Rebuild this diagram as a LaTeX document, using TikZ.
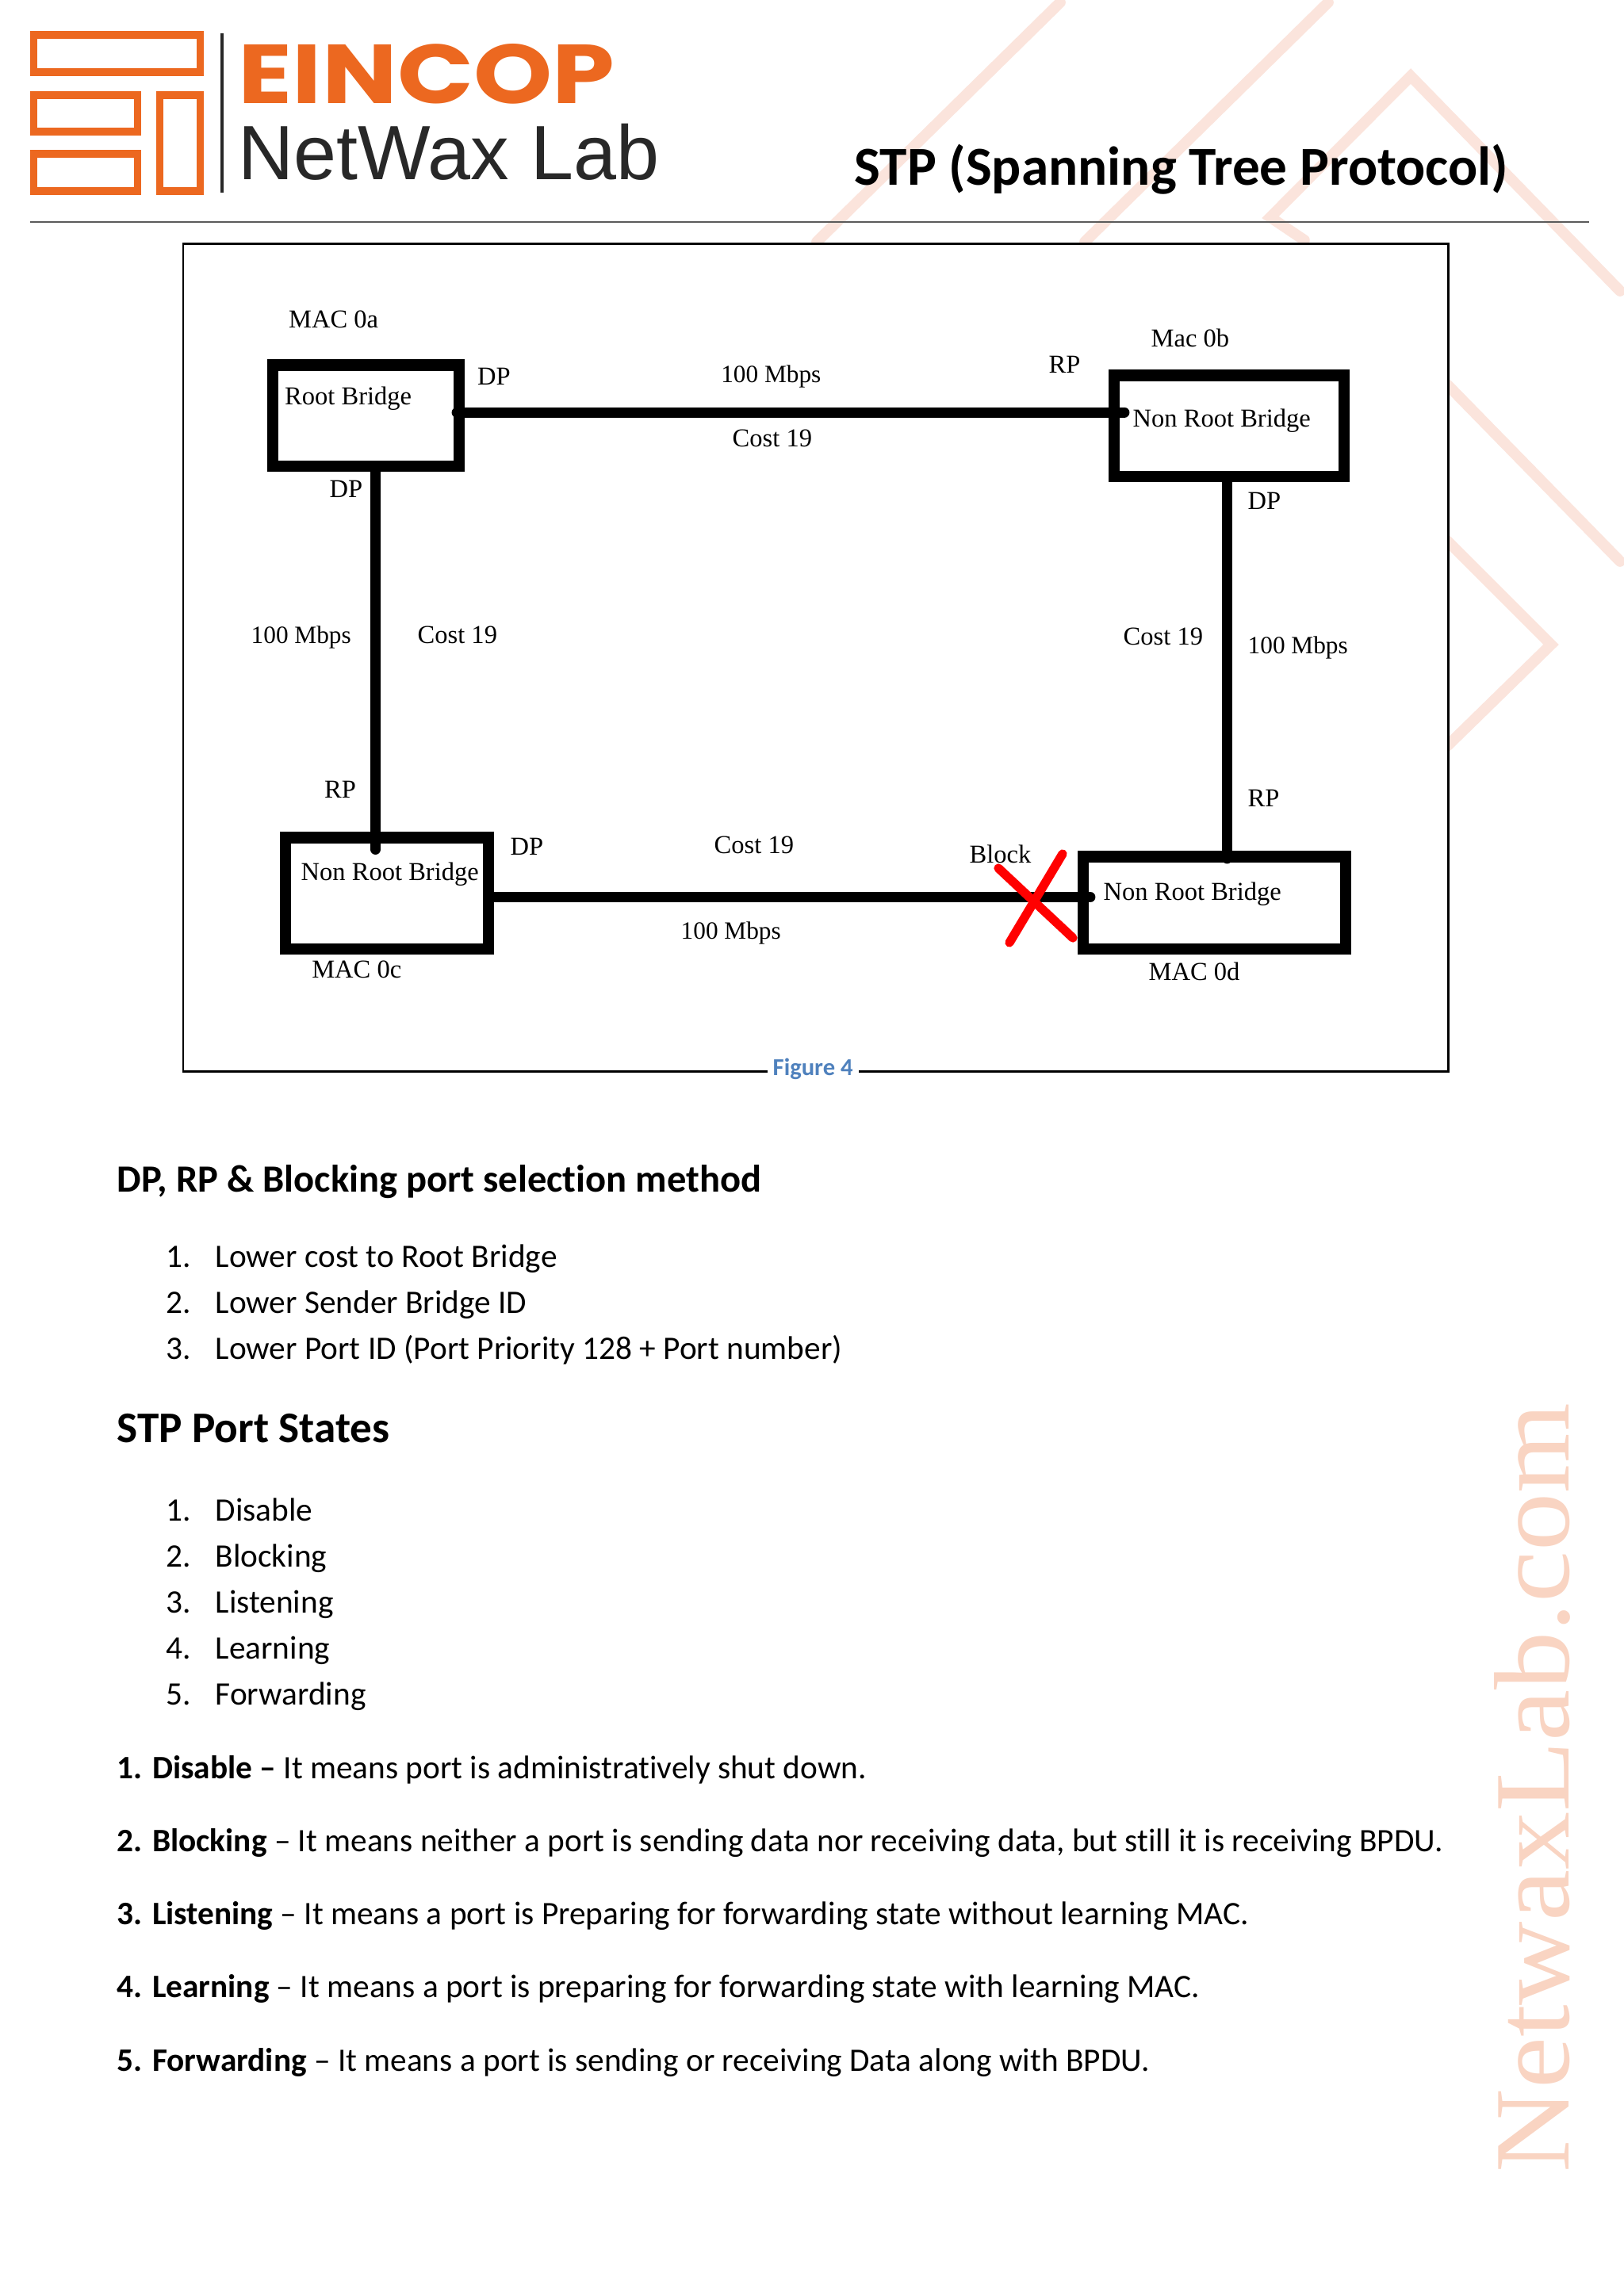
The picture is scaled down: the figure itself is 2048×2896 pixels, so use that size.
\documentclass[tikz,border=0pt]{standalone}
\usepackage{fontspec}
\setmainfont[Ligatures={TeX,NoCommon}]{Carlito}
\newfontfamily\diagfont{Liberation Serif}
\newfontfamily\logofont{Liberation Sans}
\newfontfamily\brandfont{Poppins}
\usetikzlibrary{arrows.meta}

\tikzset{
  bridgebox/.style={draw=black, line width=4pt, inner sep=0pt, outer sep=0pt},
  linkline/.style={black, line width=3.7pt, line cap=round},
  portlabel/.style={anchor=base west, inner sep=0pt, font=\diagfont\fontsize{9.25}{11}\selectfont},
  speedlabel/.style={anchor=base west, inner sep=0pt, font=\diagfont\fontsize{8.9}{11}\selectfont},
  bodyline/.style={anchor=base west, inner sep=0pt, font=\fontsize{11.75}{14}\selectfont},
  logobar/.style={draw=logoorange, line width=2.7pt},
  shadeline/.style={draw=shadecolor, line width=3.9pt, line cap=round, line join=miter}
}

\begin{document}
\begin{tikzpicture}[x=0.01cm, y=-0.01cm, >=stealth]

\definecolor{logoorange}{RGB}{236, 104, 32}
\definecolor{logodark}{RGB}{40, 40, 40}
\definecolor{shadecolor}{RGB}{251, 228, 220}
\definecolor{markcolor}{RGB}{249, 212, 194}
\definecolor{rulecolor}{RGB}{90, 90, 90}
\definecolor{captioncolor}{RGB}{79, 129, 189}

\fill[white] (0, 0) rectangle (2048, 2896);
\useasboundingbox (0, 0) rectangle (2048, 2896);

\draw[shadeline] (1337, 3) -- (1030, 305);
\draw[shadeline] (1675, 3) -- (1368, 305);
\draw[shadeline] (1645, 303) -- (1602, 274) -- (1779, 96) -- (2043, 367);
\draw[shadeline] (1825, 485) -- (2043, 708);
\draw[shadeline] (1825, 682) -- (1956, 813) -- (1825, 941);

\node[anchor=base west, inner sep=0pt, rotate=90, markcolor, font=\diagfont\fontsize{38.5}{46}\selectfont] (markname) at (1978, 2741) {\scalebox{1.08}[1]{NetwaxLab.com}};

\draw[logobar] (42.5, 44) rectangle (252.5, 91);
\draw[logobar] (42.5, 120) rectangle (173.5, 166);
\draw[logobar] (42.5, 194) rectangle (173.5, 241);
\draw[logobar] (201.5, 120) rectangle (252.5, 241);
\draw[logodark, line width=1.1pt] (280, 42) -- (280, 243);
\node[anchor=base west, inner sep=0pt, logoorange, font=\brandfont\bfseries] (brandtop) at (300, 130) {\resizebox{4.74cm}{0.75cm}{EINCOP}};
\node[anchor=base west, inner sep=0pt, logodark, font=\logofont\fontsize{27.6}{30}\selectfont] (brandlow) at (300, 226) {NetWax Lab};

\node[anchor=base west, inner sep=0pt, font=\bfseries\fontsize{19.7}{22}\selectfont] (pagetitle) at (1077, 233) {STP (Spanning Tree Protocol)};
\draw[rulecolor, line width=0.8pt] (38, 280) -- (2004, 280);

\draw[black, fill=white, line width=0.85pt] (231, 307) rectangle (1826, 1351);

\node[bridgebox, minimum width=2.345cm, minimum height=1.27cm] (rootbridge) at (461.75, 524) {};
\node[bridgebox, minimum width=2.895cm, minimum height=1.27cm] (nonrootb) at (1549.75, 537) {};
\node[bridgebox, minimum width=2.555cm, minimum height=1.40cm] (nonrootc) at (487.75, 1126.5) {};
\node[bridgebox, minimum width=3.305cm, minimum height=1.165cm] (nonrootd) at (1531.75, 1138.75) {};

\draw[linkline] ([shift={(-3,-4)}]rootbridge.east) -- ([shift={(13,-17)}]nonrootb.west);
\draw[linkline] ([shift={(11.75,0)}]rootbridge.south) -- ([shift={(-14.25,15)}]nonrootc.north);
\draw[linkline] ([shift={(-2.25,0)}]nonrootb.south) -- ([shift={(15.75,2.5)}]nonrootd.north);
\draw[linkline] ([shift={(0,5)}]nonrootc.east) -- ([shift={(8.5,-7.25)}]nonrootd.west);

\node[portlabel] (namea) at (358.5, 510) {Root Bridge};
\node[portlabel] (nameb) at (1428, 538) {Non Root Bridge};
\node[portlabel] (namec) at (379, 1110) {Non Root Bridge};
\node[portlabel] (named) at (1391, 1135) {Non Root Bridge};

\node[portlabel] (maca) at (363.5, 413) {MAC 0a};
\node[portlabel] (macb) at (1451, 437) {Mac 0b};
\node[portlabel] (macc) at (392.6, 1233) {MAC 0c};
\node[portlabel] (macd) at (1448, 1236) {MAC 0d};

\node[portlabel] (portae) at (601.5, 485) {DP};
\node[portlabel] (portas) at (415, 627) {DP};
\node[portlabel] (portbw) at (1322, 470) {RP};
\node[portlabel] (portbs) at (1573, 642) {DP};
\node[portlabel] (portcn) at (408.5, 1006) {RP};
\node[portlabel] (portce) at (643, 1078) {DP};
\node[portlabel] (portdn) at (1573, 1017) {RP};
\node[portlabel] (portdw) at (1222, 1088) {Block};

\node[speedlabel] (speedtop) at (908.6, 482) {100 Mbps};
\node[portlabel] (costtop) at (923, 563) {Cost 19};
\node[speedlabel] (speedleft) at (316, 811) {100 Mbps};
\node[portlabel] (costleft) at (526, 811) {Cost 19};
\node[portlabel] (costright) at (1416, 813) {Cost 19};
\node[speedlabel] (speedright) at (1573, 824) {100 Mbps};
\node[portlabel] (costlow) at (900, 1076) {Cost 19};
\node[speedlabel] (speedlow) at (858, 1184) {100 Mbps};

\draw[red, line width=3.2pt, line cap=round] (1259, 1095) -- (1353, 1183);
\draw[red, line width=3.2pt, line cap=round] (1340, 1077) -- (1273, 1189);

\node[anchor=base west, fill=white, inner xsep=2pt, inner ysep=1pt, text=captioncolor, font=\bfseries\fontsize{8.7}{10}\selectfont] (figcaption) at (967, 1356) {Figure 4};

\node[anchor=base west, inner sep=0pt, font=\bfseries\fontsize{13.8}{16}\selectfont] (headmethod) at (147, 1503) {DP, RP \& Blocking port selection method};
\node[bodyline] (numa) at (209, 1598) {1.};
\node[bodyline] (itema) at (271, 1598) {Lower cost to Root Bridge};
\node[bodyline] (numb) at (209, 1656) {2.};
\node[bodyline] (itemb) at (271, 1656) {Lower Sender Bridge ID};
\node[bodyline] (numc) at (209, 1714) {3.};
\node[bodyline] (itemc) at (271, 1714) {Lower Port ID (Port Priority 128 + Port number)};

\node[anchor=base west, inner sep=0pt, font=\bfseries\fontsize{15.7}{18}\selectfont] (headstates) at (147, 1819) {STP Port States};
\node[bodyline] (numd) at (209, 1918) {1.};
\node[bodyline] (stated) at (271, 1918) {Disable};
\node[bodyline] (nume) at (209, 1976) {2.};
\node[bodyline] (statee) at (271, 1976) {Blocking};
\node[bodyline] (numf) at (209, 2034) {3.};
\node[bodyline] (statef) at (271, 2034) {Listening};
\node[bodyline] (numg) at (209, 2092) {4.};
\node[bodyline] (stateg) at (271, 2092) {Learning};
\node[bodyline] (numh) at (209, 2150) {5.};
\node[bodyline] (stateh) at (271, 2150) {Forwarding};

\node[bodyline] (parad) at (147, 2243) {\textbf{1. Disable –} It means port is administratively shut down.};
\node[bodyline] (parae) at (147, 2335) {\textbf{2. Blocking} – It means neither a port is sending data nor receiving data, but still it is receiving BPDU.};
\node[bodyline] (paraf) at (147, 2427) {\textbf{3. Listening} – It means a port is Preparing for forwarding state without learning MAC.};
\node[bodyline] (parag) at (147, 2519) {\textbf{4. Learning} – It means a port is preparing for forwarding state with learning MAC.};
\node[bodyline] (parah) at (147, 2612) {\textbf{5. Forwarding} – It means a port is sending or receiving Data along with BPDU.};

\end{tikzpicture}
\end{document}
